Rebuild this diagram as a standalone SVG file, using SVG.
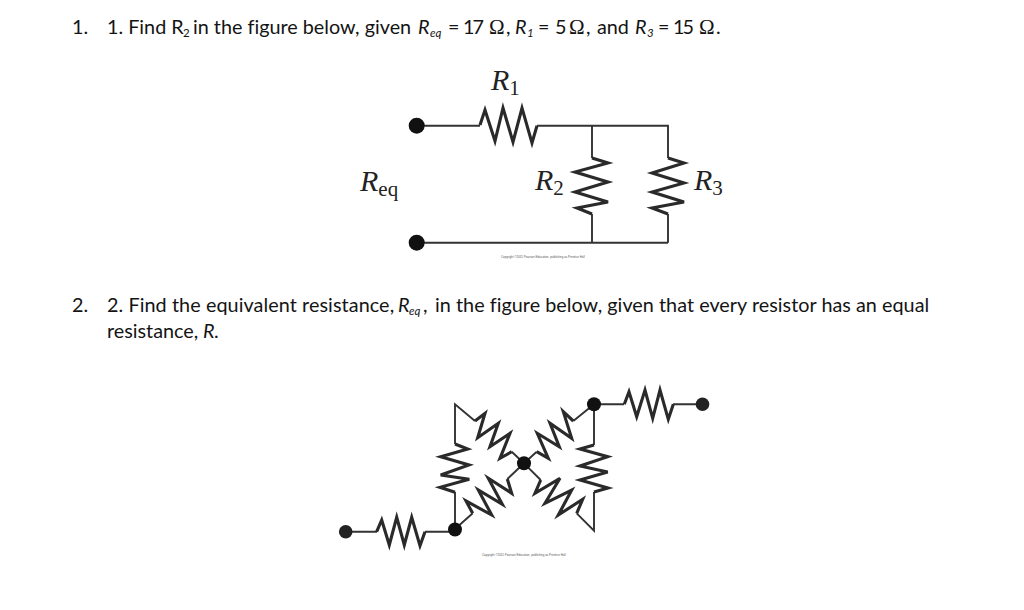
<svg xmlns="http://www.w3.org/2000/svg" width="1024" height="610" viewBox="0 0 1024 610">
<style>
.t{font-family:"Lato","Liberation Sans",sans-serif;font-size:19.8px;fill:#141414;font-variant-ligatures:none}
.i{font-style:italic}
.s{font-size:11.5px}
.n{letter-spacing:-2px}
.o{font-family:"Liberation Serif",serif;font-size:21px}
.m{font-family:"Liberation Serif",serif;font-size:30px;fill:#222}
.ms{font-size:21px}
.c{font-family:"Liberation Sans",sans-serif;font-size:2.95px;fill:#555}
.w{fill:none;stroke:#333;stroke-width:1.9;stroke-linejoin:miter}
.z{fill:none;stroke:#2a2a2a;stroke-width:3.1;stroke-linejoin:miter}
.d{fill:#111}
</style>
<rect width="1024" height="610" fill="#fff"/>
<g id="question-text">
<text class="t" x="72" y="34">1.</text>
<text class="t" y="34"><tspan x="107">1. Find R</tspan><tspan x="183" dy="3" class="s">2</tspan><tspan x="193" dy="-3">in the figure below, given</tspan><tspan x="418" class="i">R</tspan><tspan x="430" dy="3" class="i s">eq</tspan><tspan x="448" dy="-3">=</tspan><tspan x="463" class="n">17</tspan><tspan x="489" class="o">Ω</tspan><tspan x="506">,</tspan><tspan x="515" class="i">R</tspan><tspan x="527" dy="3" class="i s">1</tspan><tspan x="538" dy="-3">=</tspan><tspan x="555">5</tspan><tspan x="569" class="o">Ω</tspan><tspan x="586">,</tspan><tspan x="597">and</tspan><tspan x="635" class="i">R</tspan><tspan x="647" dy="3" class="i s">3</tspan><tspan x="658" dy="-3">=</tspan><tspan x="673" class="n">15</tspan><tspan x="699" class="o">Ω</tspan><tspan x="716">.</tspan></text>
<text class="t" x="72" y="312">2.</text>
<text class="t" y="312"><tspan x="107" letter-spacing=".08">2. Find the equivalent resistance,</tspan><tspan x="398" class="i">R</tspan><tspan x="409" dy="3" class="i s">eq</tspan><tspan x="423" dy="-3">,</tspan><tspan x="435" letter-spacing=".03">in the figure below, given that every resistor has an equal</tspan></text>
<text class="t" y="338"><tspan x="107">resistance,</tspan><tspan x="203" class="i">R</tspan><tspan x="214">.</tspan></text>
</g>
<g id="connectors">
<path class="w" d="M417 125.7H480M537 125.7H668V158M592 125.7V158M592 214V242.7M668 214V242.7M417 242.7H668"/>
<path class="w" d="M346 531.7H377M425 531.7H455M594 404.3H624M673 404.3H702"/>
<path class="w" d="M455 529V492M455 444V404.3L475 421M594 404.3V445M594 492V530.7L576.7 513.3M455 529L472.7 513.3M507.3 479L524 463.3M594 404.3L573.3 421M524 463.3L536.7 451.7M511.7 451.7L524 463.3M524 463.3L540.7 480"/>
</g>
<g id="R1"><path class="z" d="M480 125L485 110L495 141L503 108L513 142L522 108L532 143L537 125.7"/><text class="m i" x="491" y="90">R<tspan class="ms" font-style="normal" dy="5">1</tspan></text></g>
<g id="R2"><path class="z" d="M592 158L608 163L575 172L608 182L575 192L608 202L577 208L592 214"/><text class="m i" x="535" y="190">R<tspan class="ms" font-style="normal" dy="5">2</tspan></text></g>
<g id="R3"><path class="z" d="M668 158L684 163L652 173L684 183L652 192L684 202L652 208L668 214"/><text class="m i" x="694" y="190">R<tspan class="ms" font-style="normal" dy="5">3</tspan></text></g>
<g id="Req"><text class="m i" x="360" y="191">R<tspan class="ms" font-style="normal" dy="5">eq</tspan></text></g>
<g id="terminal-a"><circle class="d" cx="416.7" cy="125.7" r="8"/></g>
<g id="terminal-b"><circle class="d" cx="416.7" cy="242.7" r="8"/></g>
<text class="c" x="501" y="258">Copyright ©2011 Pearson Education, publishing as Prentice Hall</text>
<g id="R-left"><path class="z" d="M376.7 531.7L381.7 520L389.3 545L396.7 517.3L404.3 545L411.7 517.3L420 545.7L425 531.7"/></g>
<g id="R-right"><path class="z" d="M624.3 404.3L629 391.7L636.7 416.7L645 390L652.7 418.3L660 390L668.3 419.3L673.3 404.3"/></g>
<g id="R-a"><path class="z" d="M455 444L467.7 449L440.7 456.7L469 465L440.7 475L469.3 479.3L440 487.3L455 492.3"/></g>
<g id="R-b"><path class="z" d="M475 421L485 413.3L477.7 437.7L498.3 423.3L490 446.7L510 433.3L500 458.3L511.7 451.7"/></g>
<g id="R-c"><path class="z" d="M472.7 513.3L466 501L491.7 515L478.3 490L502.3 504.3L488.3 478.3L511.7 493.3L507.3 479"/></g>
<g id="R-d"><path class="z" d="M573.3 421L563.3 411.7L571.7 438.3L550 423.3L559.3 446.7L537.3 433.3L548.3 458.3L536.7 451.7"/></g>
<g id="R-e"><path class="z" d="M594 445L580 449L607.7 456.7L580 466L607.7 472L580 480L608 488L594 492"/></g>
<g id="R-f"><path class="z" d="M576.7 513.3L582.7 499.3L558.3 515L571.7 490L545 503.3L560 478.3L535 493.3L540.7 480"/></g>
<g id="node-1"><circle cx="345.7" cy="531.7" r="6.8" fill="#222"/></g>
<g id="node-2"><circle class="d" cx="455" cy="529.5" r="7"/></g>
<g id="node-3"><circle class="d" cx="524" cy="463.3" r="7"/></g>
<g id="node-4"><circle class="d" cx="594" cy="404.3" r="7"/></g>
<g id="node-5"><circle cx="702.5" cy="404.3" r="6.8" fill="#222"/></g>
<text class="c" x="482" y="556">Copyright ©2011 Pearson Education, publishing as Prentice Hall</text>
</svg>
